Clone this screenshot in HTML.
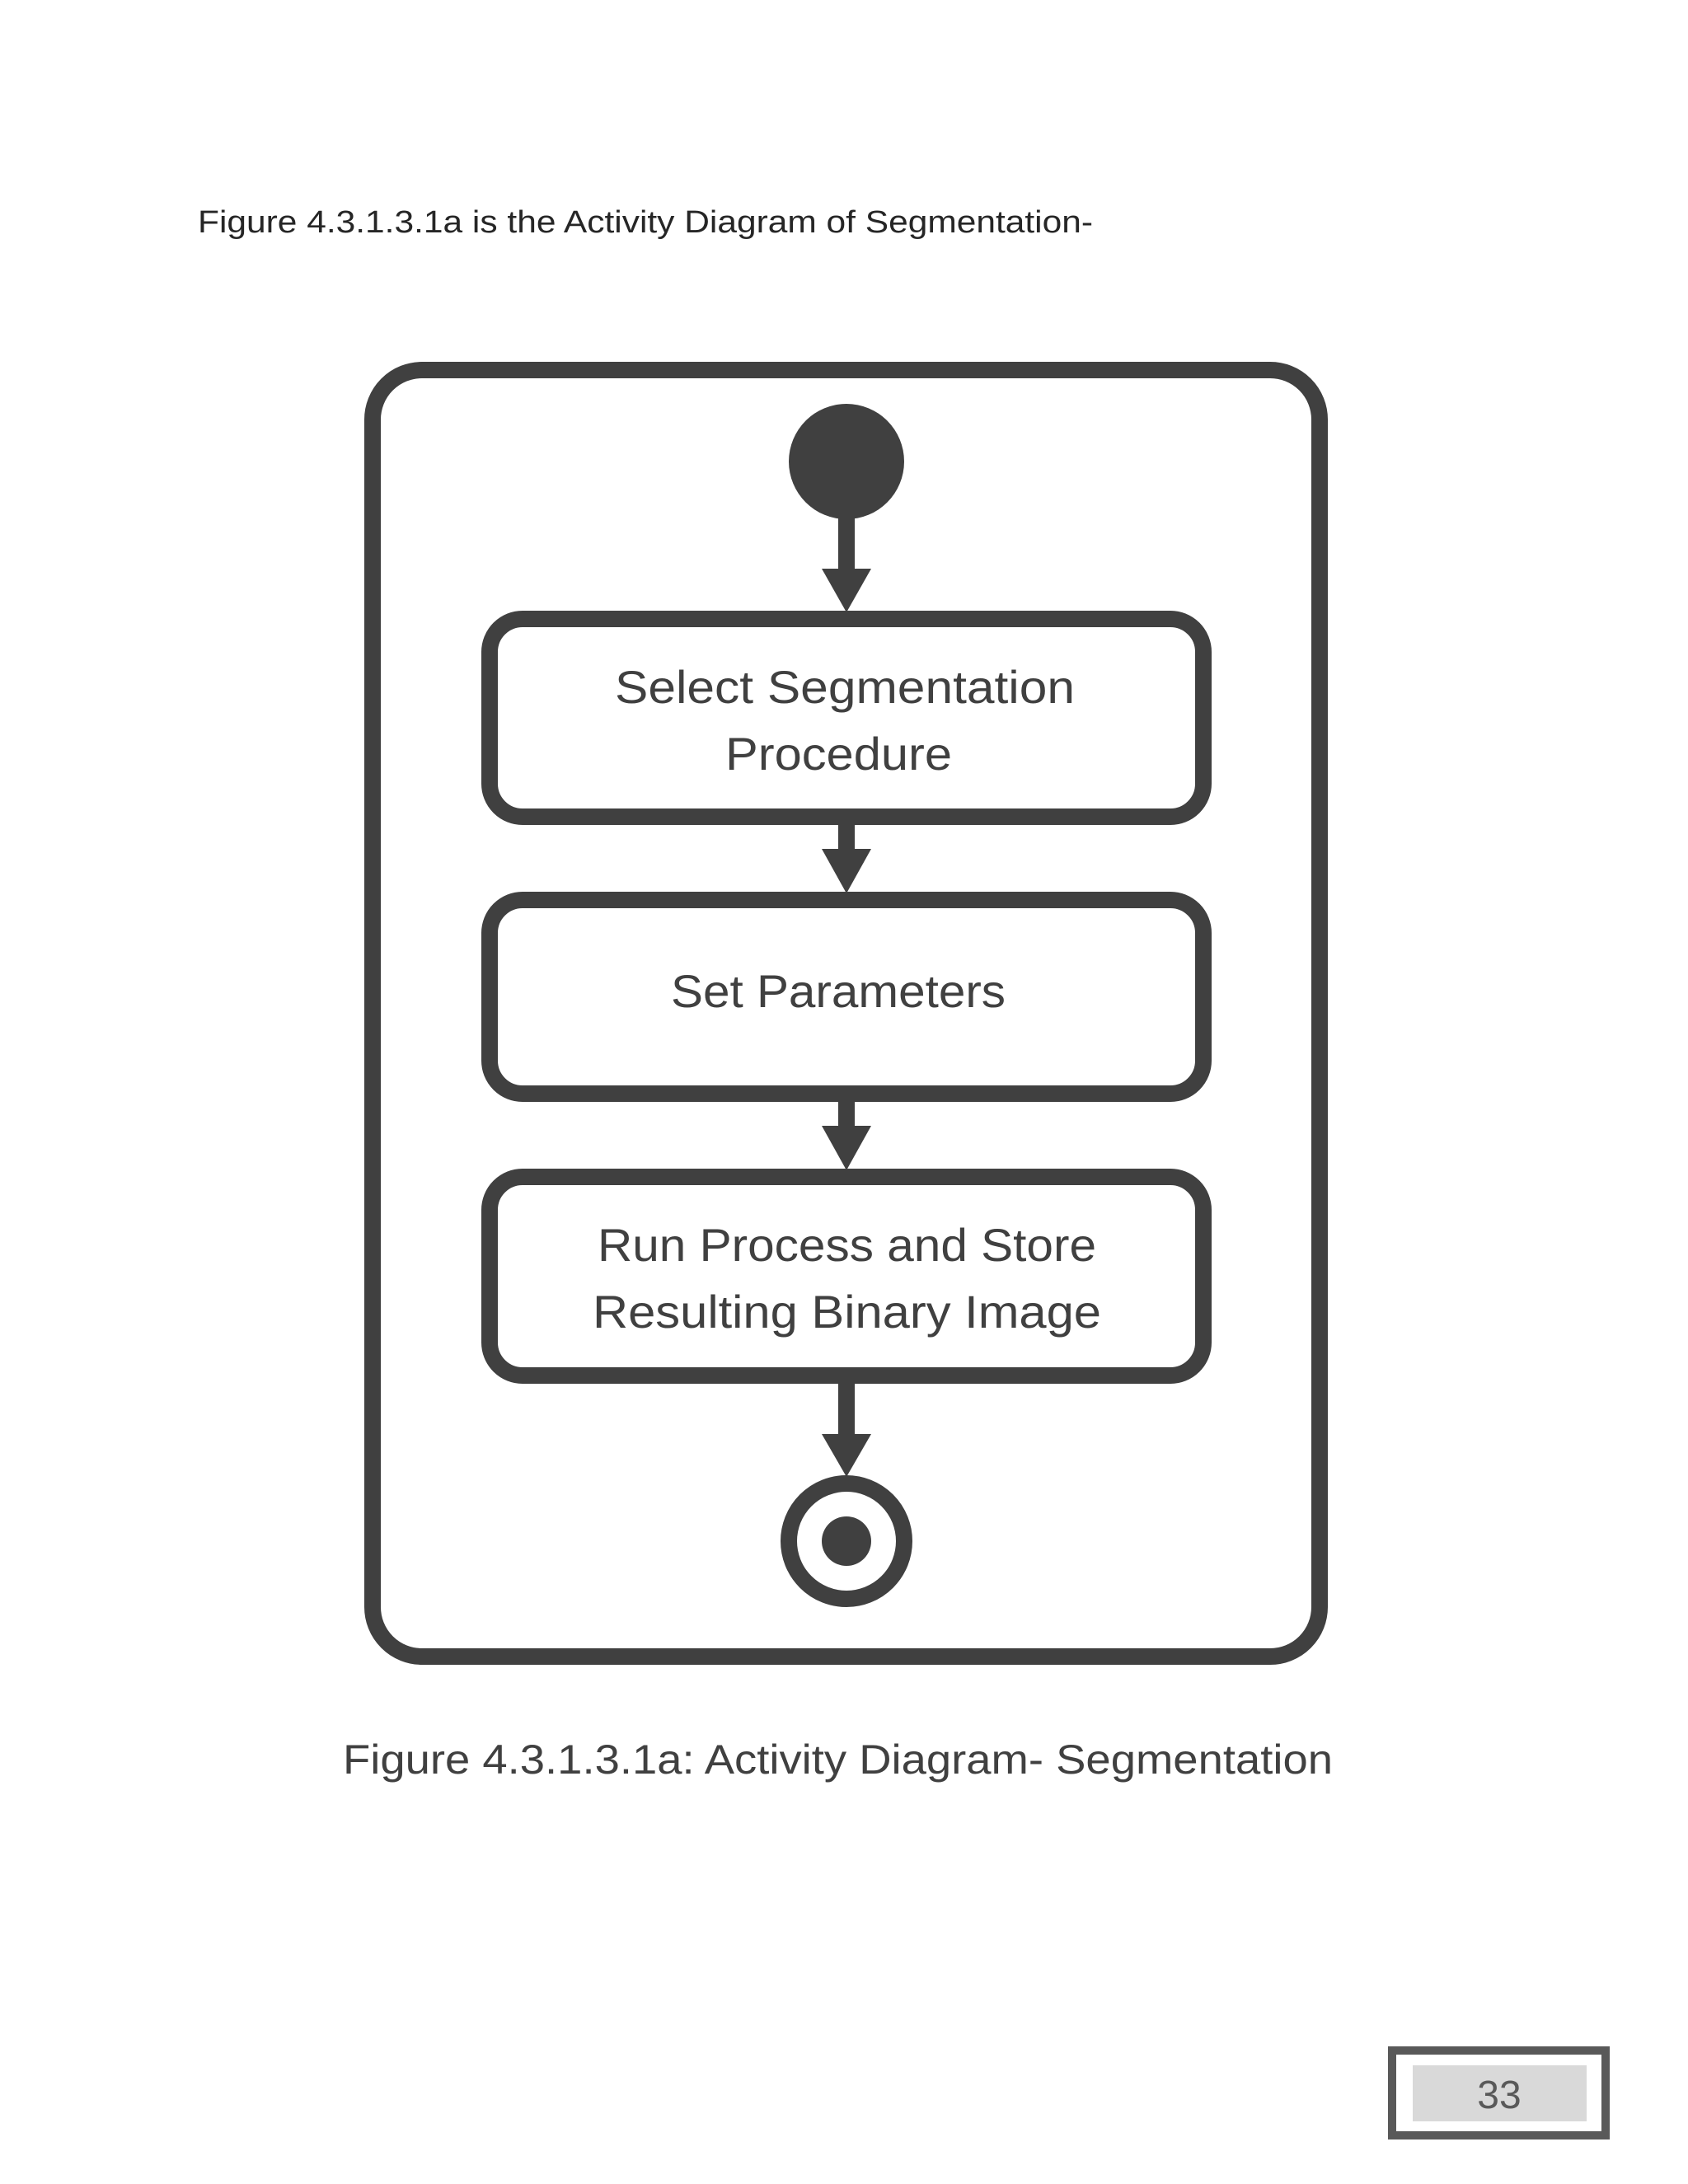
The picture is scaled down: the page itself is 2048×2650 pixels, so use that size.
<!DOCTYPE html>
<html><head><meta charset="utf-8"><style>html,body{margin:0;padding:0;background:#fff}svg{display:block}</style></head>
<body>
<svg width="2048" height="2650" viewBox="0 0 2048 2650" xmlns="http://www.w3.org/2000/svg" font-family="Liberation Sans, sans-serif">
<rect width="2048" height="2650" fill="#fff"/>
<text x="240" y="282" font-size="38" fill="#262626" textLength="1086" lengthAdjust="spacingAndGlyphs">Figure 4.3.1.3.1a is the Activity Diagram of Segmentation-</text>
<g fill="none" stroke="#404040" stroke-width="20">
<rect x="452" y="449" width="1149" height="1561" rx="60"/>
<rect x="594" y="751" width="866" height="240" rx="40"/>
<rect x="594" y="1092" width="866" height="235" rx="40"/>
<rect x="594" y="1428" width="866" height="241" rx="40"/>
<circle cx="1027" cy="1870" r="70"/>
</g>
<g fill="#404040">
<circle cx="1027" cy="560" r="70"/>
<circle cx="1027" cy="1870" r="30"/>
<rect x="1017" y="625" width="20" height="70"/>
<polygon points="997,690 1057,690 1027,743"/>
<rect x="1017" y="995" width="20" height="40"/>
<polygon points="997,1030 1057,1030 1027,1084"/>
<rect x="1017" y="1330" width="20" height="40"/>
<polygon points="997,1366 1057,1366 1027,1420"/>
<rect x="1017" y="1670" width="20" height="75"/>
<polygon points="997,1740 1057,1740 1027,1792"/>
</g>
<g font-size="56" fill="#404040">
<text x="746" y="853" textLength="558" lengthAdjust="spacingAndGlyphs">Select Segmentation</text>
<text x="880" y="934" textLength="275" lengthAdjust="spacingAndGlyphs">Procedure</text>
<text x="814" y="1222" textLength="406" lengthAdjust="spacingAndGlyphs">Set Parameters</text>
<text x="725" y="1530" textLength="605" lengthAdjust="spacingAndGlyphs">Run Process and Store</text>
<text x="719" y="1611" textLength="617" lengthAdjust="spacingAndGlyphs">Resulting Binary Image</text>
</g>
<text x="416" y="2152" font-size="50" fill="#404040" textLength="1201" lengthAdjust="spacingAndGlyphs">Figure 4.3.1.3.1a: Activity Diagram- Segmentation</text>
<rect x="1689" y="2488" width="259" height="103" fill="none" stroke="#595959" stroke-width="10"/>
<rect x="1714" y="2506" width="211" height="68" fill="#d9d9d9"/>
<text x="1819" y="2558" font-size="48" fill="#595959" text-anchor="middle">33</text>
</svg>
</body></html>
